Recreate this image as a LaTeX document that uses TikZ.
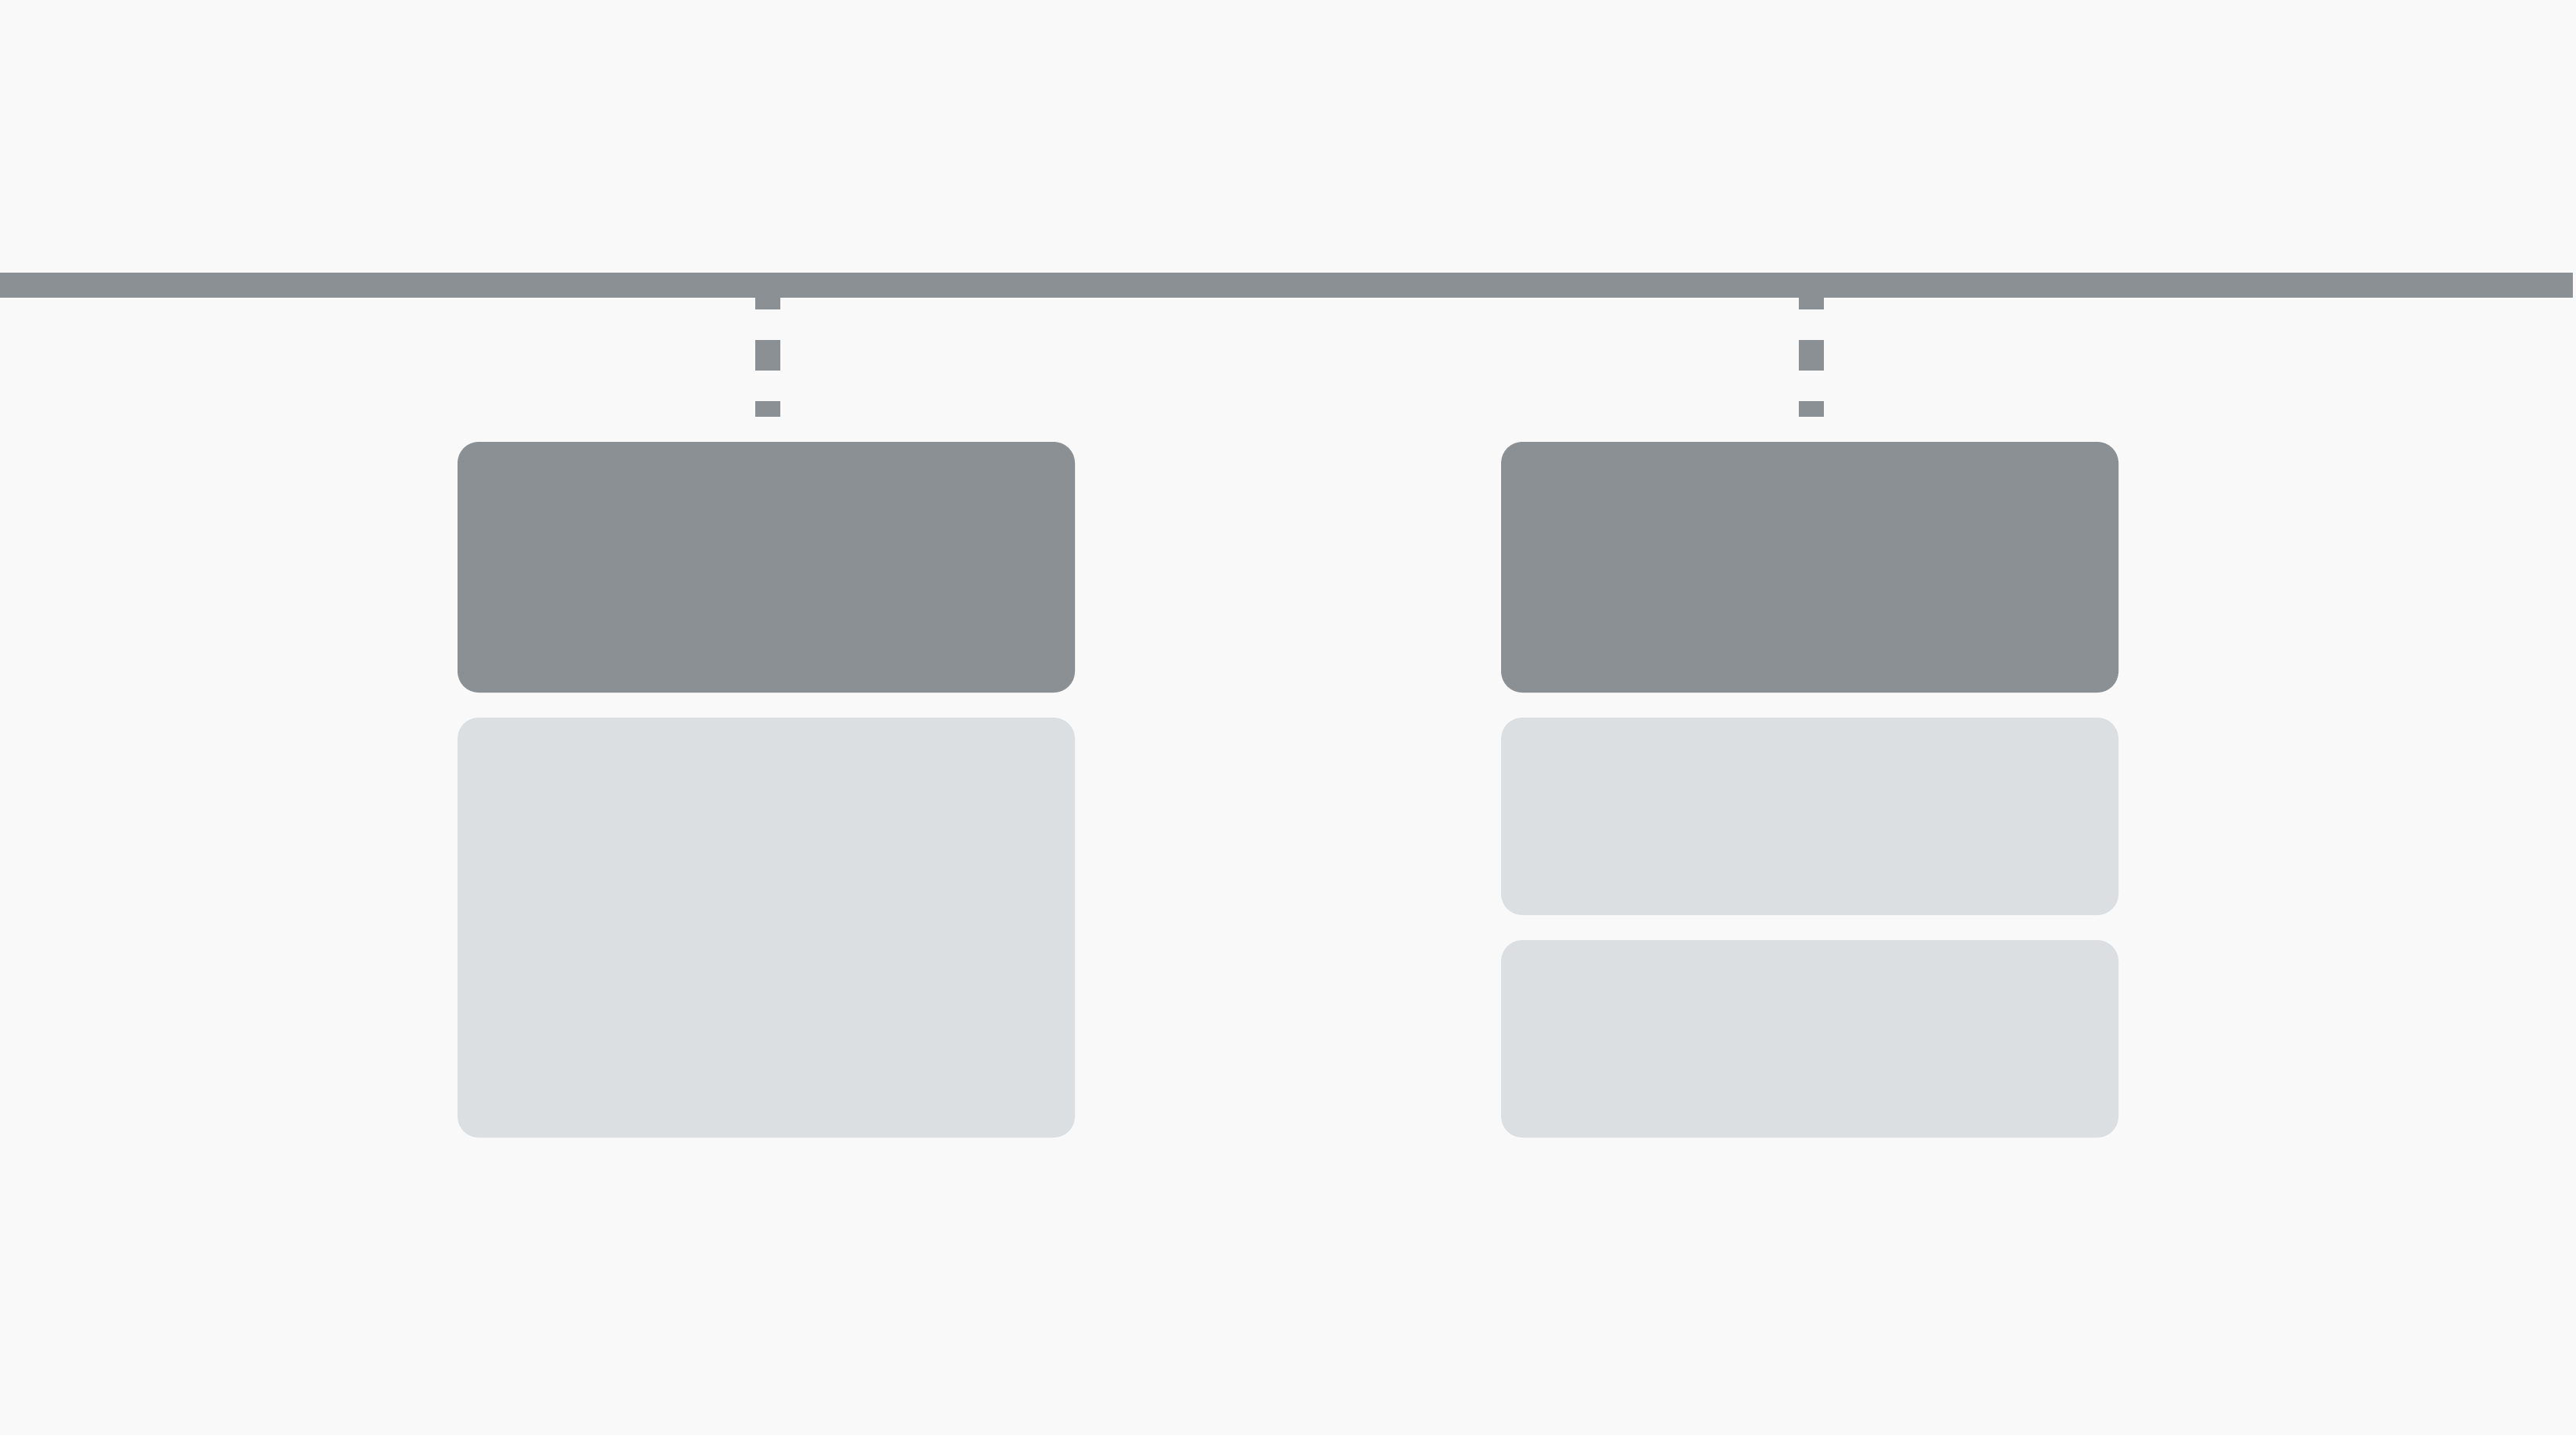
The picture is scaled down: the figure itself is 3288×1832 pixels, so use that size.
\documentclass[tikz,border=0pt]{standalone}
\definecolor{bgc}{RGB}{249,249,249}
\definecolor{darkg}{RGB}{139,144,148}
\definecolor{lightg}{RGB}{220,223,226}
\begin{document}
\begin{tikzpicture}[x=1pt,y=-1pt,
  darkbox/.style={rectangle,fill=darkg,draw=none,rounded corners=27pt,minimum width=788pt,inner sep=0pt,outer sep=0pt},
  lightbox/.style={rectangle,fill=lightg,draw=none,rounded corners=27pt,minimum width=788pt,inner sep=0pt,outer sep=0pt},
  barstyle/.style={rectangle,fill=darkg,draw=none,inner sep=0pt,outer sep=0pt,minimum height=32pt},
  link/.style={draw=darkg,line width=32pt,line cap=butt,dash pattern=on 39pt off 39pt,dash phase=7.7pt}]
\fill[bgc] (0,0) rectangle (3288,1832);
\useasboundingbox (0,0) rectangle (3288,1832);
\node[barstyle,minimum width=3284pt] (bar) at (1642,364) {};
\node[darkbox,minimum height=320pt] (ltop) at (978,724) {};
\node[lightbox,minimum height=536pt] (lbot) at (978,1184) {};
\node[darkbox,minimum height=320pt] (rtop) at (2310,724) {};
\node[lightbox,minimum height=252pt] (rmid) at (2310,1042) {};
\node[lightbox,minimum height=252pt] (rbot) at (2310,1326) {};
\coordinate (la) at (980,364);
\coordinate (le) at (980,532);
\coordinate (ra) at (2312,364);
\coordinate (re) at (2312,532);
\draw[link] (la) -- (le);
\draw[link] (ra) -- (re);
\end{tikzpicture}
\end{document}
